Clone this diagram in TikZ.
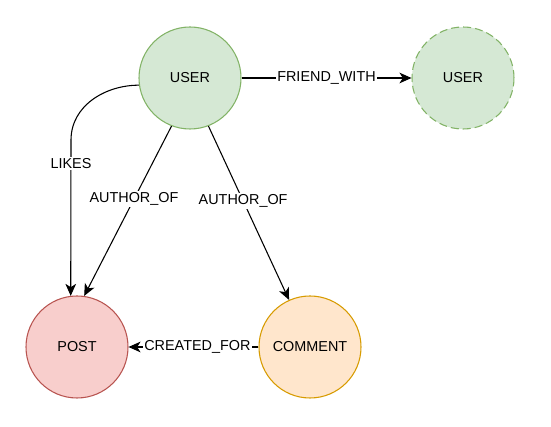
\documentclass[tikz,border=0pt]{standalone}
\usepackage{fontspec}
\setmainfont{Liberation Sans}
\usepackage{xcolor}
\usetikzlibrary{arrows.meta}

\definecolor{userFill}{HTML}{D5E8D4}
\definecolor{userLine}{HTML}{82B366}
\definecolor{postFill}{HTML}{F8CECC}
\definecolor{postLine}{HTML}{B85450}
\definecolor{commFill}{HTML}{FFE6CC}
\definecolor{commLine}{HTML}{D79B00}

\begin{document}
\begin{tikzpicture}[x=0.75pt, y=-0.75pt, font=\fontsize{10.8}{13}\selectfont,
  entity/.style={circle, draw, line width=0.8pt, minimum size=102*0.75pt, inner sep=0pt},
  edge/.style={-{Stealth[length=9pt, width=8pt, inset=2.5pt]}, line width=0.8pt},
  lbl/.style={fill=white, inner sep=1pt}]

%---------------- 尺寸參數 ----------------%
\def\picW{551}   % 圖寬
\def\picH{427}   % 圖高
\def\topY{78}    % 上排圓心
\def\botY{347}   % 下排圓心

\useasboundingbox (0,0) rectangle (\picW,\picH);

%---------------- 節點 ----------------%
\node[entity, fill=userFill, draw=userLine] (user) at (190,\topY) {USER};
\node[entity, fill=userFill, draw=userLine, dashed, dash pattern=on 6pt off 3pt] (friend) at (463,\topY) {USER};
\node[entity, fill=postFill, draw=postLine] (post) at (77,\botY) {POST};
\node[entity, fill=commFill, draw=commLine] (comment) at (310,\botY) {COMMENT};

% LIKES 彎曲處
\coordinate (likesBend) at (71,140);

%---------------- 關係 ----------------%
\draw[edge] (user) -- node[lbl] {FRIEND\_WITH} (friend);
\draw[edge] (user.188) to[out=180, in=90] (likesBend) -- node[lbl, pos=0.15] {LIKES} (post.97);
\draw[edge] (user.249) -- node[lbl, pos=0.43] {AUTHOR\_OF} (post.82);
\draw[edge] (user.291) -- node[lbl, pos=0.43] {AUTHOR\_OF} (comment.114);
\draw[edge] (comment) -- node[lbl, pos=0.47] {CREATED\_FOR} (post);

\end{tikzpicture}
\end{document}
